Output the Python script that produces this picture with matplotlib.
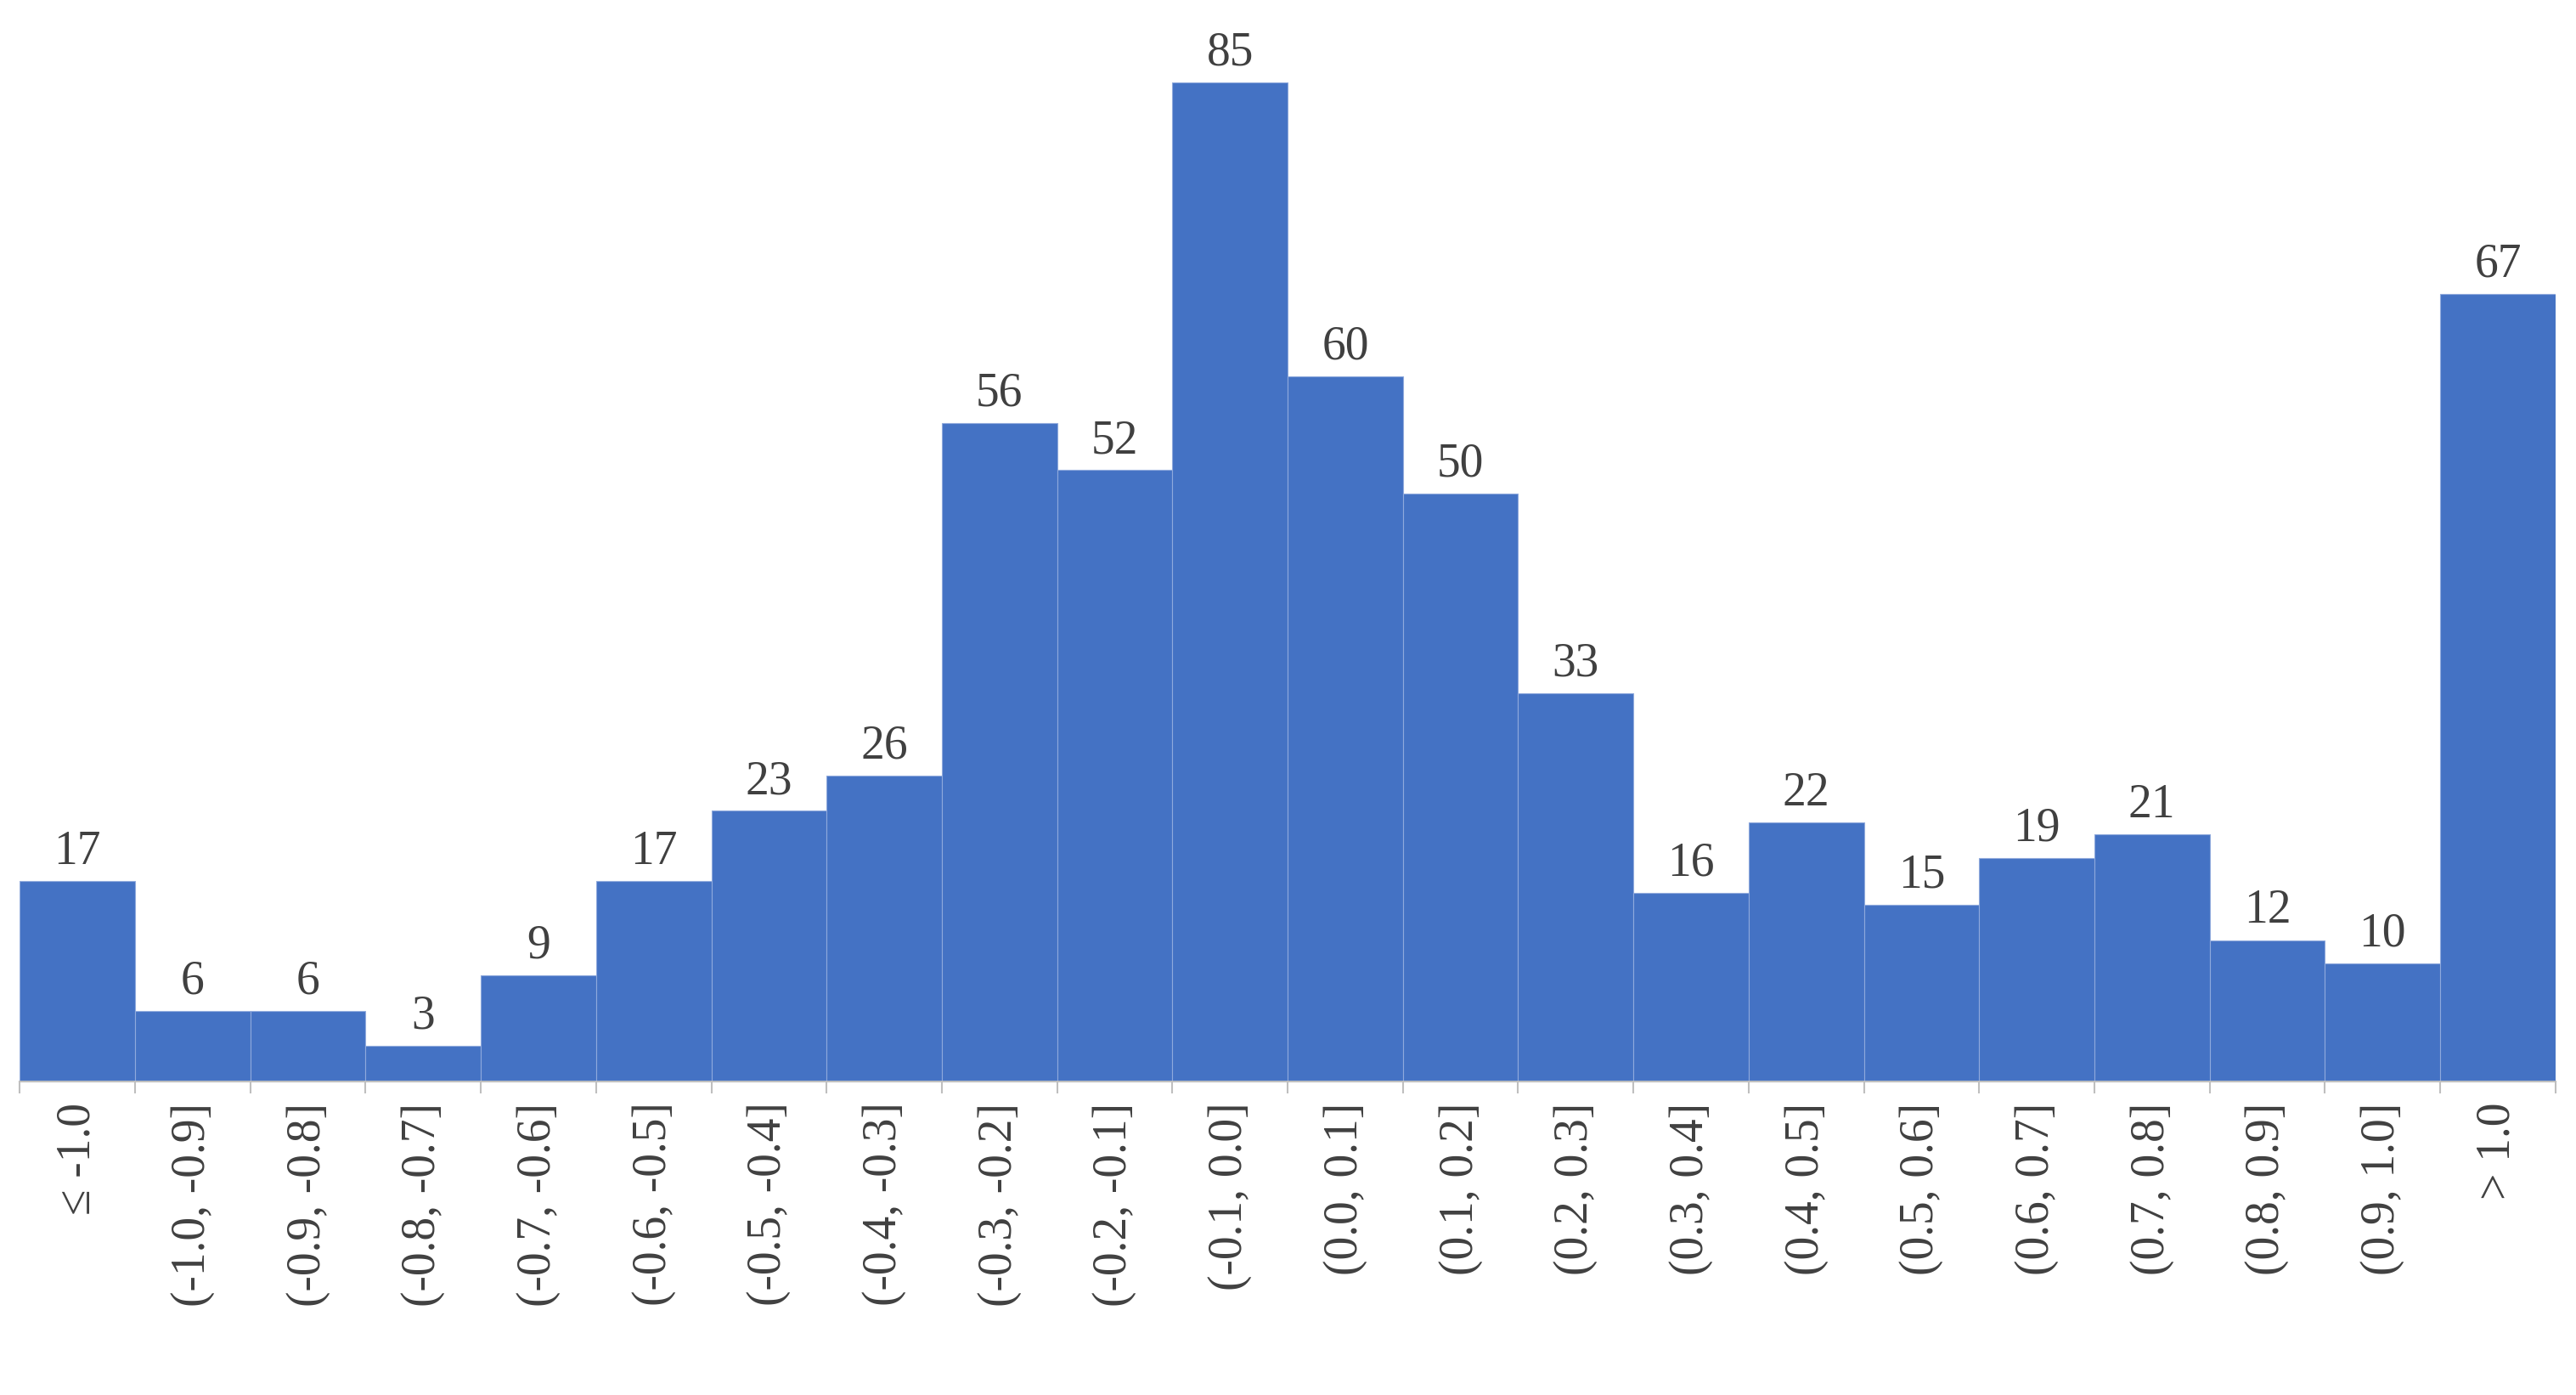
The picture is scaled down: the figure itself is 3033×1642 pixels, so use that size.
import matplotlib
matplotlib.use("agg")
import matplotlib.pyplot as plt
import numpy as np

labels = ["\u2264 -1.0", "(-1.0, -0.9]", "(-0.9, -0.8]", "(-0.8, -0.7]", "(-0.7, -0.6]",
          "(-0.6, -0.5]", "(-0.5, -0.4]", "(-0.4, -0.3]", "(-0.3, -0.2]", "(-0.2, -0.1]",
          "(-0.1, 0.0]", "(0.0, 0.1]", "(0.1, 0.2]", "(0.2, 0.3]", "(0.3, 0.4]",
          "(0.4, 0.5]", "(0.5, 0.6]", "(0.6, 0.7]", "(0.7, 0.8]", "(0.8, 0.9]",
          "(0.9, 1.0]", "> 1.0"]
counts = [17, 6, 6, 3, 9, 17, 23, 26, 56, 52, 85, 60, 50, 33, 16, 22, 15, 19, 21, 12, 10, 67]

plt.rcParams['font.family'] = ['Liberation Serif', 'DejaVu Serif']
fig = plt.figure(figsize=(30.33, 16.42), dpi=100)
ax = fig.add_axes([0.0077, 0.225, 0.9843, 0.716])

x = np.arange(len(counts))
bars = ax.bar(x, counts, width=1.0, color="#4472C4", edgecolor="#8FA9DC", linewidth=0.8)
for xi, c in zip(x, counts):
    ax.text(xi, c + 0.6, str(c), ha="center", va="bottom", fontsize=40, color="#404040")

ax.set_xlim(-0.5, len(counts) - 0.5)
ax.set_ylim(0, 85)
ax.set_xticks(x)
ax.set_xticklabels(labels, rotation=90, fontsize=40, color="#404040", va="top")
ax.set_xticks(np.arange(-0.5, len(counts), 1.0), minor=True)
ax.tick_params(axis="x", which="major", length=0, pad=18)
ax.tick_params(axis="x", which="minor", length=10, color="#BFBFBF", width=1.5)
ax.set_yticks([])
for s in ["top", "right", "left"]:
    ax.spines[s].set_visible(False)
ax.spines["bottom"].set_color("#BFBFBF")
ax.spines["bottom"].set_linewidth(1.5)
ax.patch.set_alpha(0)

fig.savefig("out.png", dpi=100)
plt.close()
